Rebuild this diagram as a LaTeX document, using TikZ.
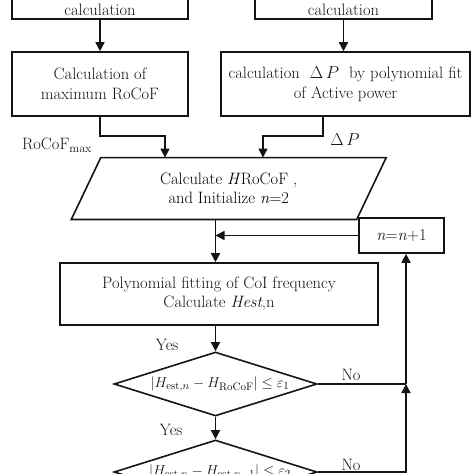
\documentclass[tikz,border=0pt]{standalone}
\usepackage{tikz}
\usetikzlibrary{positioning,arrows.meta,shapes.geometric,calc}
\definecolor{chartline}{HTML}{141414}

\begin{document}
\begin{tikzpicture}[
  x=1pt, y=-1pt,
  font=\fontsize{16.5}{19.5}\selectfont,
  pbox/.style={draw=chartline, line width=1.6pt, align=center, text=chartline,
               inner sep=4pt},
  pdec/.style={diamond, draw=chartline, line width=1.6pt, inner sep=0pt,
               minimum width=203pt, minimum height=64pt},
  flow/.style={-{Triangle[length=9pt, width=9pt]}, draw=chartline, line width=1.6pt},
  plain/.style={draw=chartline, line width=1.6pt},
  clab/.style={text=chartline, inner sep=0pt},
  dlab/.style={clab, font=\fontsize{15}{18}\selectfont}
]
\useasboundingbox (0,0) rectangle (474,474);
\clip (0,0) rectangle (474,474);
% top row (cut off by the frame)
\node[pbox, minimum width=176pt, anchor=south] (tl) at (100,20) {\strut\\calculation};
\node[pbox, minimum width=177pt, anchor=south] (tr) at (343.5,20) {\strut\\calculation};
% second row
\node[pbox, minimum width=176pt, minimum height=64pt] (ml) at (100,84) {Calculation of\\maximum RoCoF};
\node[pbox, minimum width=249pt, minimum height=64pt] (mr) at (345.5,84)
  {calculation \ $\Delta\,P$\ \ by polynomial fit\\of Active power};
% input parallelogram
\node[align=center, minimum width=285pt, minimum height=61.5pt] (calc) at (228.75,188.5)
  {Calculate \textit{H}RoCoF ,\\and Initialize \textit{n}=2};
\draw[plain] ($(calc.north west)+(14.75,0)$) -- ($(calc.north east)+(14.75,0)$)
  -- ($(calc.south east)+(-14.75,0)$) -- ($(calc.south west)+(-14.75,0)$) -- cycle;
\node[pbox, minimum width=318pt, minimum height=62pt] (fit) at (219,294)
  {Polynomial fitting of CoI frequency\\Calculate \textit{Hest},n};
\node[pbox, minimum width=85pt, minimum height=35pt] (inc) at (401.5,235.5) {\textit{n}=\textit{n}+1};
% checks
\node[pdec] (d1) at (215.5,384) {};
\node[dlab] (d1t) at (220,384) {$\Bigl|H_{\mathrm{est},n}-H_{\mathrm{RoCoF}}\Bigr|\le\varepsilon_1$};
\node[pdec] (d2) at (215.5,472) {};
\node[dlab] (d2t) at (220,472) {$\Bigl|H_{\mathrm{est},n}-H_{\mathrm{est},n-1}\Bigr|\le\varepsilon_2$};
\coordinate (lp) at (406,384);
% connectors
\draw[flow] (tl) -- (ml);
\draw[flow] (tr.south) -- (tr.south |- mr.north);
\draw[flow] (ml.south) -- ++(0,19) -| ([xshift=-63.75pt]calc.north);
\draw[flow] ([xshift=-22.5pt]mr.south) -- ++(0,19) -| ([xshift=34.25pt]calc.north);
\draw[flow] (calc.south -| d1) -- (fit.north -| d1);
\draw[flow] (fit.south -| d1) -- (d1.north);
\draw[flow] (d1.south) -- (d2.north);
\draw[plain] (d1.east) -- (lp);
\draw[flow] (lp) -- (inc.south -| lp);
\draw[flow] (d2.east) -| (lp);
\draw[flow] (inc.west) -- (inc.west -| d1);
% labels
\node[clab] at (57,145) {RoCoF$_{\mathrm{max}}$};
\node[clab] at (345,140) {$\Delta\,P$};
\node[clab] at (167,345) {Yes};
\node[clab] at (171,430) {Yes};
\node[clab] at (351,375) {No};
\node[clab] at (351,465) {No};
\end{tikzpicture}
\end{document}
